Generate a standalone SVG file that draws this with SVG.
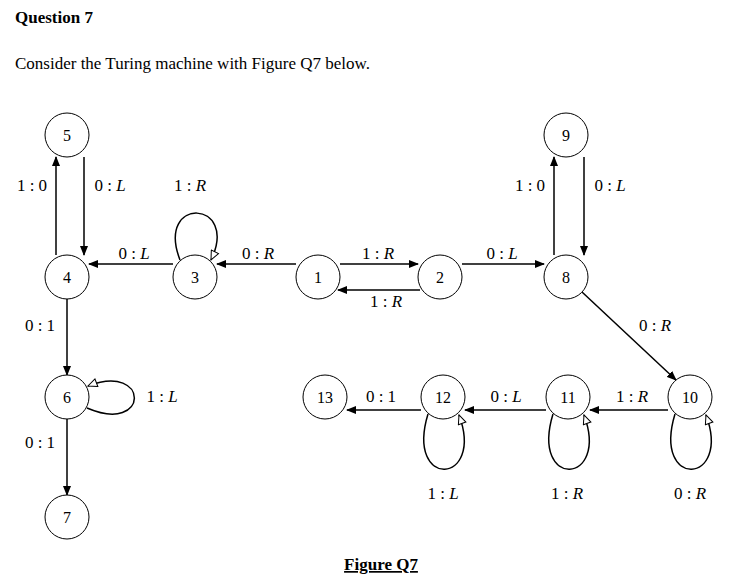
<svg xmlns="http://www.w3.org/2000/svg" width="738" height="586" viewBox="0 0 738 586">
<style>
text{font-family:"Liberation Serif",serif;font-size:17px;fill:#000}
.l{text-anchor:middle}
circle{fill:#fff;stroke:#000;stroke-width:1}
line,path{stroke:#000;stroke-width:1.5;fill:none}
.n{text-anchor:middle;dominant-baseline:central;font-size:16px}
</style>
<defs>
<marker id="a" markerWidth="10" markerHeight="8" refX="9" refY="4" orient="auto" markerUnits="userSpaceOnUse"><path d="M0,0L10,4L0,8z" style="fill:#000;stroke:none"/></marker>
<marker id="o" markerWidth="12" markerHeight="10" refX="10" refY="5" orient="auto" markerUnits="userSpaceOnUse"><path d="M1,1L10,5L1,9z" style="fill:#fff;stroke:#000;stroke-width:1"/></marker>
</defs>
<text x="15" y="23" style="font-weight:bold">Question 7</text>
<text x="15" y="69">Consider the Turing machine with Figure Q7 below.</text>
<g id="connectors">
<line x1="56" y1="255" x2="56" y2="157" marker-end="url(#a)"/>
<line x1="84" y1="157" x2="84" y2="255" marker-end="url(#a)"/>
<path d="M180,260 C155,195 240,200 211,260" marker-end="url(#o)"/>
<line x1="173" y1="264" x2="89" y2="264" marker-end="url(#a)"/>
<line x1="296" y1="264" x2="217" y2="264" marker-end="url(#a)"/>
<line x1="340" y1="264" x2="418" y2="264" marker-end="url(#a)"/>
<line x1="420" y1="290" x2="338" y2="290" marker-end="url(#a)"/>
<line x1="462" y1="264" x2="544" y2="264" marker-end="url(#a)"/>
<line x1="554" y1="255" x2="554" y2="157" marker-end="url(#a)"/>
<line x1="584" y1="157" x2="584" y2="255" marker-end="url(#a)"/>
<line x1="582" y1="292" x2="676" y2="380" marker-end="url(#a)"/>
<line x1="668" y1="410" x2="590" y2="410" marker-end="url(#a)"/>
<line x1="546" y1="410" x2="465" y2="410" marker-end="url(#a)"/>
<line x1="421" y1="410" x2="347" y2="410" marker-end="url(#a)"/>
<line x1="67" y1="299" x2="67" y2="375" marker-end="url(#a)"/>
<line x1="67" y1="419" x2="67" y2="495" marker-end="url(#a)"/>
<path d="M87,408 C150,435 150,362 88,386" marker-end="url(#o)"/>
<path d="M428,414 C405,490 485,485 459,415" marker-end="url(#o)"/>
<path d="M553,414 C530,490 610,485 584,415" marker-end="url(#o)"/>
<path d="M675,414 C652,490 732,485 706,415" marker-end="url(#o)"/>
</g>
<g id="labels">
<text class="l" x="32" y="191">1 : 0</text>
<text class="l" x="110" y="191">0 : <tspan font-style="italic">L</tspan></text>
<text class="l" x="190" y="191">1 : <tspan font-style="italic">R</tspan></text>
<text class="l" x="134" y="259">0 : <tspan font-style="italic">L</tspan></text>
<text class="l" x="258" y="259">0 : <tspan font-style="italic">R</tspan></text>
<text class="l" x="378" y="259">1 : <tspan font-style="italic">R</tspan></text>
<text class="l" x="386" y="307">1 : <tspan font-style="italic">R</tspan></text>
<text class="l" x="502" y="259">0 : <tspan font-style="italic">L</tspan></text>
<text class="l" x="530" y="191">1 : 0</text>
<text class="l" x="610" y="191">0 : <tspan font-style="italic">L</tspan></text>
<text class="l" x="655" y="331">0 : <tspan font-style="italic">R</tspan></text>
<text class="l" x="40" y="331">0 : 1</text>
<text class="l" x="162" y="402">1 : <tspan font-style="italic">L</tspan></text>
<text class="l" x="40" y="448">0 : 1</text>
<text class="l" x="381" y="402">0 : 1</text>
<text class="l" x="506" y="402">0 : <tspan font-style="italic">L</tspan></text>
<text class="l" x="632" y="402">1 : <tspan font-style="italic">R</tspan></text>
<text class="l" x="443" y="499">1 : <tspan font-style="italic">L</tspan></text>
<text class="l" x="567" y="499">1 : <tspan font-style="italic">R</tspan></text>
<text class="l" x="690" y="499">0 : <tspan font-style="italic">R</tspan></text>
</g>
<g id="n5"><circle cx="67" cy="135" r="22"/><text class="n" x="67" y="135">5</text></g>
<g id="n4"><circle cx="67" cy="277" r="22"/><text class="n" x="67" y="277">4</text></g>
<g id="n3"><circle cx="195" cy="277" r="22"/><text class="n" x="195" y="277">3</text></g>
<g id="n1"><circle cx="318" cy="277" r="22"/><text class="n" x="318" y="277">1</text></g>
<g id="n2"><circle cx="440" cy="277" r="22"/><text class="n" x="440" y="277">2</text></g>
<g id="n8"><circle cx="566" cy="277" r="22"/><text class="n" x="566" y="277">8</text></g>
<g id="n9"><circle cx="566" cy="135" r="22"/><text class="n" x="566" y="135">9</text></g>
<g id="n6"><circle cx="67" cy="397" r="22"/><text class="n" x="67" y="397">6</text></g>
<g id="n7"><circle cx="67" cy="517" r="22"/><text class="n" x="67" y="517">7</text></g>
<g id="n13"><circle cx="325" cy="397" r="22"/><text class="n" x="325" y="397">13</text></g>
<g id="n12"><circle cx="443" cy="397" r="22"/><text class="n" x="443" y="397">12</text></g>
<g id="n11"><circle cx="568" cy="397" r="22"/><text class="n" x="568" y="397">11</text></g>
<g id="n10"><circle cx="690" cy="397" r="22"/><text class="n" x="690" y="397">10</text></g>
<text class="l" x="381" y="570" style="font-weight:bold;text-decoration:underline">Figure Q7</text>
</svg>
